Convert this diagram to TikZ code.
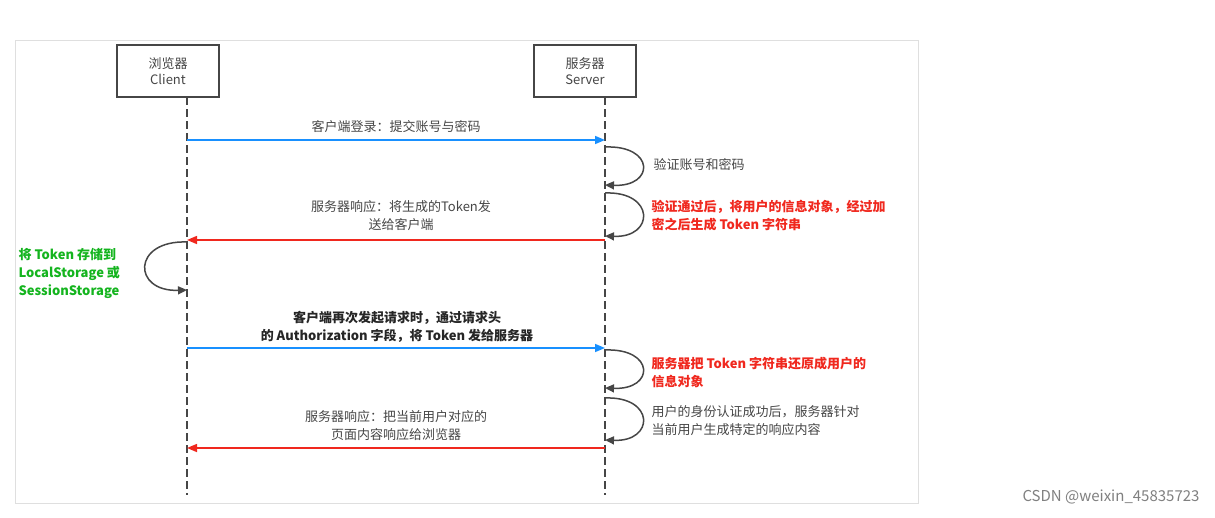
\documentclass[tikz,border=0pt]{standalone}
\usepackage{fontspec}
\setmainfont{Noto Sans CJK SC}
\usetikzlibrary{arrows.meta}
\definecolor{fblue}{RGB}{24,144,255}
\definecolor{fred}{RGB}{240,40,30}
\definecolor{fgreen}{RGB}{20,180,30}
\definecolor{fgray}{RGB}{70,70,70}
\tikzset{
 actor/.style={draw=fgray,line width=1.3pt,minimum width=102pt,minimum height=52pt,align=center,font=\fontsize{13}{16}\selectfont,text=fgray},
 life/.style={draw=fgray,line width=1.3pt,dash pattern=on 8pt off 4pt},
 msg/.style={line width=1.5pt,-{Triangle[length=10pt,width=8pt]}},
 loopa/.style={draw=fgray,line width=1.5pt,-{Triangle[length=9pt,width=8pt]}},
 lbl/.style={font=\fontsize{13}{18}\selectfont,text=fgray,align=center},
 note/.style={font=\fontsize{13}{18}\selectfont,align=left,anchor=west},
 bnote/.style={note,font=\bfseries\fontsize{13}{18}\selectfont},
}
\begin{document}
\begin{tikzpicture}[x=1pt,y=-1pt]
\useasboundingbox (0,0) rectangle (1215,517);
\fill[white] (0,0) rectangle (1215,517);
\draw[gray!25,line width=0.8pt] (15,40) rectangle (918,503);
\node[actor] (c) at (168,71) {浏览器\\Client};
\node[actor] (s) at (585,71) {服务器\\Server};
\coordinate (ct) at (187,97); \coordinate (cb) at (187,495);
\coordinate (st) at (605,97); \coordinate (sb) at (605,495);
\draw[life] (ct) -- (cb);
\draw[life] (st) -- (sb);
\coordinate (a1) at (187,140); \coordinate (b1) at (605,140);
\draw[msg,fblue] (a1) -- (b1);
\node[lbl] (l1) at (396,127) {客户端登录：提交账号与密码};
\coordinate (p1) at (605,147); \coordinate (q1) at (605,185);
\draw[loopa] (p1) .. controls (655,145) and (655,187) .. (q1);
\node[note,text=fgray] (n1) at (650,165) {验证账号和密码};
\coordinate (p2) at (605,193); \coordinate (q2) at (605,236);
\draw[loopa] (p2) .. controls (655,191) and (655,238) .. (q2);
\node[bnote,text=fred] (n2) at (648,216) {验证通过后，将用户的信息对象，经过加\\密之后生成 Token 字符串};
\coordinate (a2) at (605,240); \coordinate (b2) at (187,240);
\draw[msg,fred] (a2) -- (b2);
\node[lbl] (l2) at (401,216) {服务器响应：将生成的Token发\\送给客户端};
\coordinate (p3) at (187,242); \coordinate (q3) at (187,290);
\draw[loopa] (p3) .. controls (132,240) and (132,292) .. (q3);
\node[bnote,text=fgreen] (n3) at (15,273) {将 Token 存储到\\LocalStorage 或\\SessionStorage};
\coordinate (a3) at (187,348); \coordinate (b3) at (605,348);
\draw[msg,fblue] (a3) -- (b3);
\node[lbl,text=black!85,font=\bfseries\fontsize{13}{18}\selectfont] (l3) at (397,327) {客户端再次发起请求时，通过请求头\\的 Authorization 字段，将 Token 发给服务器};
\coordinate (p4) at (605,350); \coordinate (q4) at (605,388);
\draw[loopa] (p4) .. controls (655,348) and (655,390) .. (q4);
\node[bnote,text=fred] (n4) at (648,372) {服务器把 Token 字符串还原成用户的\\信息对象};
\coordinate (p5) at (605,398); \coordinate (q5) at (605,440);
\draw[loopa] (p5) .. controls (655,396) and (655,442) .. (q5);
\node[note,text=fgray] (n5) at (648,421) {用户的身份认证成功后，服务器针对\\当前用户生成特定的响应内容};
\coordinate (a4) at (605,448); \coordinate (b4) at (187,448);
\draw[msg,fred] (a4) -- (b4);
\node[lbl] (l4) at (396,426) {服务器响应：把当前用户对应的\\页面内容响应给浏览器};
\node[anchor=east,font=\fontsize{15}{18}\selectfont,text=gray] (w) at (1203,497) {CSDN @weixin\_45835723};
\end{tikzpicture}
\end{document}
